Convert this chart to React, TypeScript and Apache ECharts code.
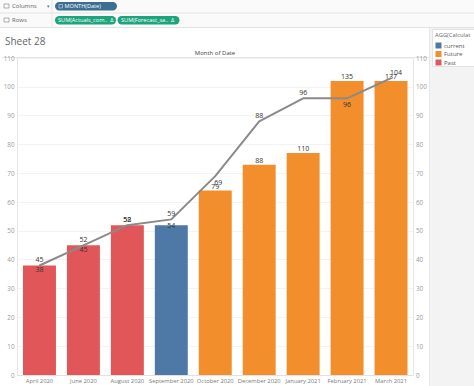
import React, { useEffect, useRef } from "react";
import * as echarts from "echarts";

const categories = [
  "April 2020",
  "June 2020",
  "August 2020",
  "September 2020",
  "October 2020",
  "December 2020",
  "January 2021",
  "February 2021",
  "March 2021",
];
const barValues = [38, 45, 52, 52, 64, 73, 77, 102, 102];
const barLabels = [38, 45, 58, 54, 79, 88, 110, 135, 137];
const barTypes = ["Past", "Past", "Past", "current", "Future", "Future", "Future", "Future", "Future"];
const lineValues = [38, 45, 52, 54, 69, 88, 96, 96, 103];
const lineLabels = [45, 52, 52, 59, 69, 88, 96, 96, 104];
const legendItems = ["current", "Future", "Past"];

const typeColors: Record<string, string> = {
  current: "#4e79a7",
  Future: "#f28e2b",
  Past: "#e15759",
};

const barLabelPos = ["insideTop", "insideTop", "top", "insideTop", "top", "top", "top", "top", "top"];
const barLabelDist = [1, 1, 2, -3, 1, 1, 1, 1, 1];
const lineLabelPos = ["top", "top", "top", "top", "bottom", "top", "top", "bottom", "top"];
const lineLabelOff: number[][] = [
  [0, 0], [0, 0], [0, 0], [0, 0], [3, 0], [0, 0], [0, 0], [0, 0], [5, 0],
];

const FONT = "Open Sans";

export default function App() {
  const ref = useRef<HTMLDivElement>(null);
  useEffect(() => {
    if (!ref.current) return;
    const chart = echarts.init(ref.current, null, { renderer: "svg" });
    const graphics: any[] = [
      // header
      { type: "rect", shape: { x: 0, y: 0, width: 474, height: 28 }, style: { fill: "#fafafa" }, silent: true },
      { type: "line", shape: { x1: 0, y1: 13, x2: 474, y2: 13 }, style: { stroke: "#e2e2e2", lineWidth: 1 } },
      { type: "line", shape: { x1: 0, y1: 27.5, x2: 474, y2: 27.5 }, style: { stroke: "#e2e2e2", lineWidth: 1 } },
      { type: "line", shape: { x1: 52, y1: 0, x2: 52, y2: 27 }, style: { stroke: "#e6e6e6", lineWidth: 1 } },
      { type: "rect", shape: { x: 4, y: 4, width: 5, height: 4 }, style: { fill: "none", stroke: "#999", lineWidth: 0.8 } },
      { type: "rect", shape: { x: 4, y: 18, width: 5, height: 4 }, style: { fill: "none", stroke: "#999", lineWidth: 0.8 } },
      { type: "text", x: 12, y: 6, style: { text: "Columns", fontSize: 6, fill: "#666", fontFamily: FONT, verticalAlign: "middle" } },
      { type: "text", x: 47, y: 6, style: { text: "▾", fontSize: 5, fill: "#777", fontFamily: "DejaVu Sans", verticalAlign: "middle" } },
      { type: "text", x: 12, y: 20, style: { text: "Rows", fontSize: 6, fill: "#666", fontFamily: FONT, verticalAlign: "middle" } },
      { type: "rect", shape: { x: 55, y: 2, width: 62, height: 8.5, r: 4.2 }, style: { fill: "#3b6f90" } },
      { type: "rect", shape: { x: 59, y: 4.5, width: 3.5, height: 3.5 }, style: { fill: "none", stroke: "#cfe0ea", lineWidth: 0.6 } },
      { type: "text", x: 64.5, y: 6.3, style: { text: "MONTH(Date)", fontSize: 5.6, fill: "#ffffff", fontFamily: FONT, verticalAlign: "middle" } },
      { type: "rect", shape: { x: 55, y: 16, width: 61, height: 8.5, r: 4.2 }, style: { fill: "#1ea47c" } },
      { type: "text", x: 58, y: 20.3, style: { text: "SUM(Actuals_com..  Δ", fontSize: 5.6, fill: "#ffffff", fontFamily: FONT, verticalAlign: "middle" } },
      { type: "rect", shape: { x: 117.5, y: 16, width: 62, height: 8.5, r: 4.2 }, style: { fill: "#1ea47c" } },
      { type: "text", x: 121, y: 20.3, style: { text: "SUM(Forecast_sa..  Δ", fontSize: 5.6, fill: "#ffffff", fontFamily: FONT, verticalAlign: "middle" } },
      // right panel
      { type: "rect", shape: { x: 430, y: 28, width: 44, height: 358 }, style: { fill: "#f3f3f3" }, silent: true },
      { type: "rect", shape: { x: 432.5, y: 29.5, width: 42, height: 37 }, style: { fill: "#ffffff", stroke: "#e2e2e2", lineWidth: 1 } },
      { type: "text", x: 435, y: 35, style: { text: "AGG(Calculation", width: 38, overflow: "truncate", ellipsis: "", fontSize: 5.8, fill: "#666", fontFamily: FONT, verticalAlign: "middle" } },
      // sheet title
      { type: "text", x: 5, y: 40.5, style: { text: "Sheet 28", fontSize: 10, fill: "#666", fontFamily: FONT, verticalAlign: "middle" } },
      { type: "text", x: 215, y: 53.3, style: { text: "Month of Date", fontSize: 6, fill: "#444", fontFamily: FONT, align: "center", verticalAlign: "middle" } },
      { type: "line", shape: { x1: 2, y1: 57.5, x2: 429, y2: 57.5 }, style: { stroke: "#e4e4e4", lineWidth: 1 } },
      { type: "line", shape: { x1: 429.5, y1: 28, x2: 429.5, y2: 386 }, style: { stroke: "#e8e8e8", lineWidth: 1 } },
    ];
    legendItems.forEach((name, i) => {
      const y = 45.5 + i * 8.5;
      graphics.push({ type: "rect", shape: { x: 435.5, y: y - 3, width: 6, height: 6 }, style: { fill: typeColors[name] } });
      graphics.push({ type: "text", x: 444, y: y, style: { text: name, fontSize: 6, fill: "#555", fontFamily: FONT, verticalAlign: "middle" } });
    });

    const axisCommon = {
      type: "value",
      min: 0,
      max: 110,
      interval: 10,
      axisLine: { show: true, lineStyle: { color: "#e6e6e6" } },
      axisTick: { show: false },
      axisLabel: { fontSize: 6.3, color: "#9a9a9a", fontFamily: FONT, margin: 3 },
    };

    chart.setOption({
      animation: false,
      backgroundColor: "#ffffff",
      textStyle: { fontFamily: FONT },
      graphic: { elements: graphics },
      grid: { left: 17.5, right: 61, top: 58, bottom: 11, containLabel: false },
      xAxis: {
        type: "category",
        data: categories,
        axisLine: { show: true, lineStyle: { color: "#e0e0e0" } },
        axisTick: { show: false },
        axisLabel: { interval: 0, fontSize: 5.8, color: "#7a7a7a", fontFamily: FONT, margin: 3 },
      },
      yAxis: [
        { ...axisCommon, position: "left", splitLine: { show: true, lineStyle: { color: "#f3f3f3", width: 1 } } },
        { ...axisCommon, position: "right", splitLine: { show: false } },
      ],
      series: [
        {
          type: "bar",
          yAxisIndex: 0,
          barCategoryGap: "25%",
          data: barValues.map((v, i) => ({
            value: v,
            itemStyle: { color: typeColors[barTypes[i]] },
            label: {
              show: true,
              position: barLabelPos[i],
              distance: barLabelDist[i],
              formatter: () => String(barLabels[i]),
              fontSize: 7,
              color: "#333",
              fontFamily: FONT,
            },
          })),
        },
        {
          type: "line",
          yAxisIndex: 1,
          symbol: "circle",
          symbolSize: 1,
          itemStyle: { color: "#8a8a8a" },
          lineStyle: { color: "#8a8a8a", width: 2 },
          z: 3,
          data: lineValues.map((v, i) => ({
            value: v,
            label: {
              show: true,
              position: lineLabelPos[i],
              distance: 2,
              offset: lineLabelOff[i],
              formatter: () => String(lineLabels[i]),
              fontSize: 7,
              color: "#333",
              fontFamily: FONT,
            },
          })),
        },
      ],
    });
    return () => chart.dispose();
  }, []);
  return (
    <div
      ref={ref}
      style={{ position: "absolute", left: 0, top: 0, width: 474, height: 386 }}
    />
  );
}
